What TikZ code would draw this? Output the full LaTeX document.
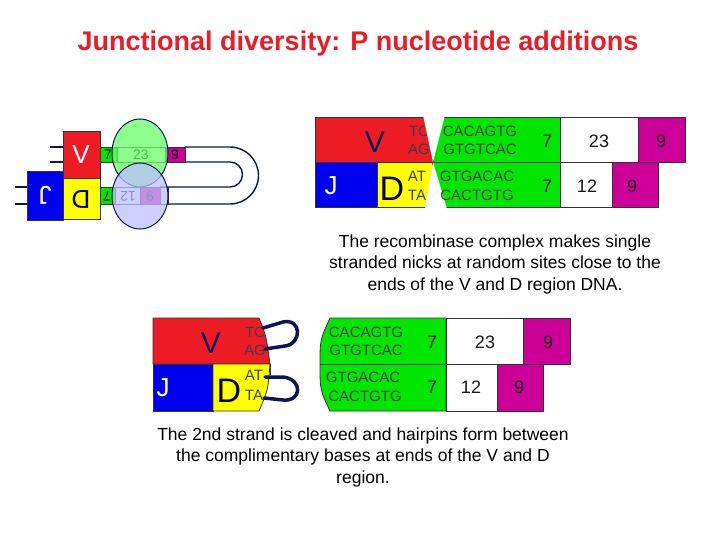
\documentclass[tikz,border=0pt]{standalone}
\usepackage{fontspec}
\setmainfont{Liberation Sans}
\usetikzlibrary{positioning}
\definecolor{vred}{RGB}{237,28,36}
\definecolor{jblue}{RGB}{0,0,240}
\definecolor{dyellow}{RGB}{255,255,0}
\definecolor{rssgreen}{RGB}{0,230,0}
\definecolor{ninemag}{RGB}{204,0,153}
\definecolor{navy}{RGB}{10,20,90}
\tikzset{
  seg/.style={draw=black!80, line width=0.8pt},
  bigletter/.style={font=\fontsize{30}{30}\selectfont},
  seq/.style={font=\fontsize{15}{15}\selectfont, text=black!75},
  num/.style={font=\fontsize{18}{18}\selectfont, text=black!90},
  para/.style={align=center, font=\fontsize{17.5}{21.5}\selectfont},
  dna/.style={navy, line width=1.4pt},
  hairpin/.style={navy, line width=3.5pt, line cap=round}
}
\begin{document}
\begin{tikzpicture}[x=1pt, y=-1pt]
\useasboundingbox (0,0) rectangle (720,540);
% Title
\node[text=vred, font=\bfseries\fontsize{27}{27}\selectfont] (title) at (358,44) {Junctional diversity: P nucleotide additions};

% Looped DNA with recombinase
\draw[dna] (50,147) -- (63,147) (50,162) -- (63,162);
\draw[dna] (15,187) -- (27,187) (15,204) -- (27,204);
\draw[dna] (185,147) -- (230,147) arc (-90:90:28.5) -- (168,204);
\draw[dna] (185,162) -- (230,162) arc (-90:90:12.5) -- (160,187);
\filldraw[seg, fill=vred] (63,131) rectangle (100,178);
\filldraw[seg, fill=dyellow] (63,178) rectangle (100,219);
\filldraw[seg, fill=jblue] (27,171) rectangle (63,220);
\node[text=white, font=\fontsize{26}{26}\selectfont] (vsmall) at (81,155) {V};
\node[rotate=180, font=\fontsize{26}{26}\selectfont] (dsmall) at (81,199) {D};
\node[rotate=180, text=white, font=\fontsize{26}{26}\selectfont] (jsmall) at (45,195) {J};
\filldraw[seg, fill=rssgreen] (100,147) rectangle (117,162);
\filldraw[seg, fill=white] (117,147) rectangle (165,162);
\filldraw[seg, fill=ninemag] (165,147) rectangle (185,162);
\filldraw[seg, fill=rssgreen] (100,187) rectangle (115,204);
\filldraw[seg, fill=white] (115,187) rectangle (140,204);
\filldraw[seg, fill=ninemag] (140,187) rectangle (160,204);
\draw[seg] (160,187) rectangle (168,204);
\node[font=\fontsize{14}{14}\selectfont] (sev) at (108,155) {7};
\node[font=\fontsize{14}{14}\selectfont] (tw) at (141,155) {23};
\node[font=\fontsize{14}{14}\selectfont] (ni) at (175,155) {9};
\node[rotate=180, font=\fontsize{14}{14}\selectfont] (sevb) at (107,196) {7};
\node[rotate=180, font=\fontsize{14}{14}\selectfont] (twb) at (128,196) {12};
\node[rotate=180, font=\fontsize{14}{14}\selectfont] (nib) at (150,196) {9};
\filldraw[draw=navy, line width=1pt, fill=green!60!white, fill opacity=0.75] (140,153) ellipse (28 and 34);
\filldraw[draw=navy, line width=1pt, fill=blue!25!white, fill opacity=0.75] (140,196) ellipse (28 and 33);

% Nicked strands
\filldraw[seg, fill=vred] (315,117) rectangle (433,162);
\filldraw[seg, fill=rssgreen] (433,117) rectangle (560,162);
\filldraw[seg, fill=white] (560,117) rectangle (638,162);
\filldraw[seg, fill=ninemag] (638,117) rectangle (685,162);
\filldraw[seg, fill=jblue] (315,162) rectangle (377,207);
\filldraw[seg, fill=dyellow] (377,162) rectangle (432,207);
\filldraw[seg, fill=rssgreen] (432,162) rectangle (560,207);
\filldraw[seg, fill=white] (560,162) rectangle (612,207);
\filldraw[seg, fill=ninemag] (612,162) rectangle (658,207);
\node[seq] (tc) at (419,131) {TC};
\node[seq] (ag) at (419,149) {AG};
\node[seq] (at) at (417,176) {AT};
\node[seq] (ta) at (417,195) {TA};
\fill[white] (423,115) -- (445,115) -- (433,162) -- (447,209) -- (425,209) -- (433,162) -- cycle;
\node[bigletter, text=navy] (vtop) at (375,142) {V};
\node[font=\fontsize{26}{26}\selectfont, text=white] (jtop) at (331,186) {J};
\node[font=\fontsize{34}{34}\selectfont] (dtop) at (392,189) {D};
\node[seq] (cac) at (480,131) {CACAGTG};
\node[seq] (gtg) at (480,149) {GTGTCAC};
\node[seq] (gtga) at (477,176) {GTGACAC};
\node[seq] (cact) at (477,195) {CACTGTG};
\node[num] (s1) at (547,141) {7};
\node[num] (t1) at (599,141) {23};
\node[num] (n1) at (661,141) {9};
\node[num] (s2) at (547,186) {7};
\node[num] (t2) at (587,186) {12};
\node[num] (n2) at (632,186) {9};
\node[para] (nicks) at (495,264) {The recombinase complex makes single\\stranded nicks at random sites close to the\\ends of the V and D region DNA.};

% Hairpins
\filldraw[seg, fill=vred] (153,318) -- (259,318) .. controls (266,335) .. (270,364) -- (153,364) -- cycle;
\filldraw[seg, fill=jblue] (153,364) rectangle (213,411);
\filldraw[seg, fill=dyellow] (213,364) -- (270,364) .. controls (268,390) .. (259,411) -- (213,411) -- cycle;
\draw[seg] (270,364) -- (270,375);
\node[bigletter, text=navy] (vbot) at (211,343) {V};
\node[font=\fontsize{26}{26}\selectfont, text=white] (jbot) at (163,388) {J};
\node[font=\fontsize{34}{34}\selectfont] (dbot) at (229,391) {D};
\node[seq] (tcb) at (255,332) {TC};
\node[seq] (agb) at (255,350) {AG};
\node[seq] (atb) at (254,375) {AT};
\node[seq] (tab) at (254,395) {TA};
\draw[hairpin] (263,328) -- (283,322) .. controls (302,318) and (302,344) .. (285,346) -- (265,349);
\draw[hairpin] (265,377) -- (283,377) .. controls (303,379) and (302,402) .. (283,400) -- (264,398);
\filldraw[seg, fill=rssgreen] (330,318) -- (446,318) -- (446,411) -- (330,411) .. controls (320,390) .. (320,364) .. controls (320,340) .. cycle;
\draw[seg] (320,364) -- (446,364);
\filldraw[seg, fill=white] (446,318) rectangle (523,364);
\filldraw[seg, fill=ninemag] (523,318) rectangle (570,364);
\filldraw[seg, fill=white] (446,364) rectangle (497,411);
\filldraw[seg, fill=ninemag] (497,364) rectangle (543,411);
\node[seq] (cacb) at (366,332) {CACAGTG};
\node[seq] (gtgb) at (366,350) {GTGTCAC};
\node[seq] (gtgab) at (363,377) {GTGACAC};
\node[seq] (cactb) at (365,396) {CACTGTG};
\node[num] (s3) at (432,342) {7};
\node[num] (t3) at (485,342) {23};
\node[num] (n3) at (548,342) {9};
\node[num] (s4) at (432,387) {7};
\node[num] (t4) at (471,387) {12};
\node[num] (n4) at (519,387) {9};
\node[para] (cleave) at (363,457) {The 2nd strand is cleaved and hairpins form between\\the complimentary bases at ends of the V and D\\region.};
\end{tikzpicture}
\end{document}
